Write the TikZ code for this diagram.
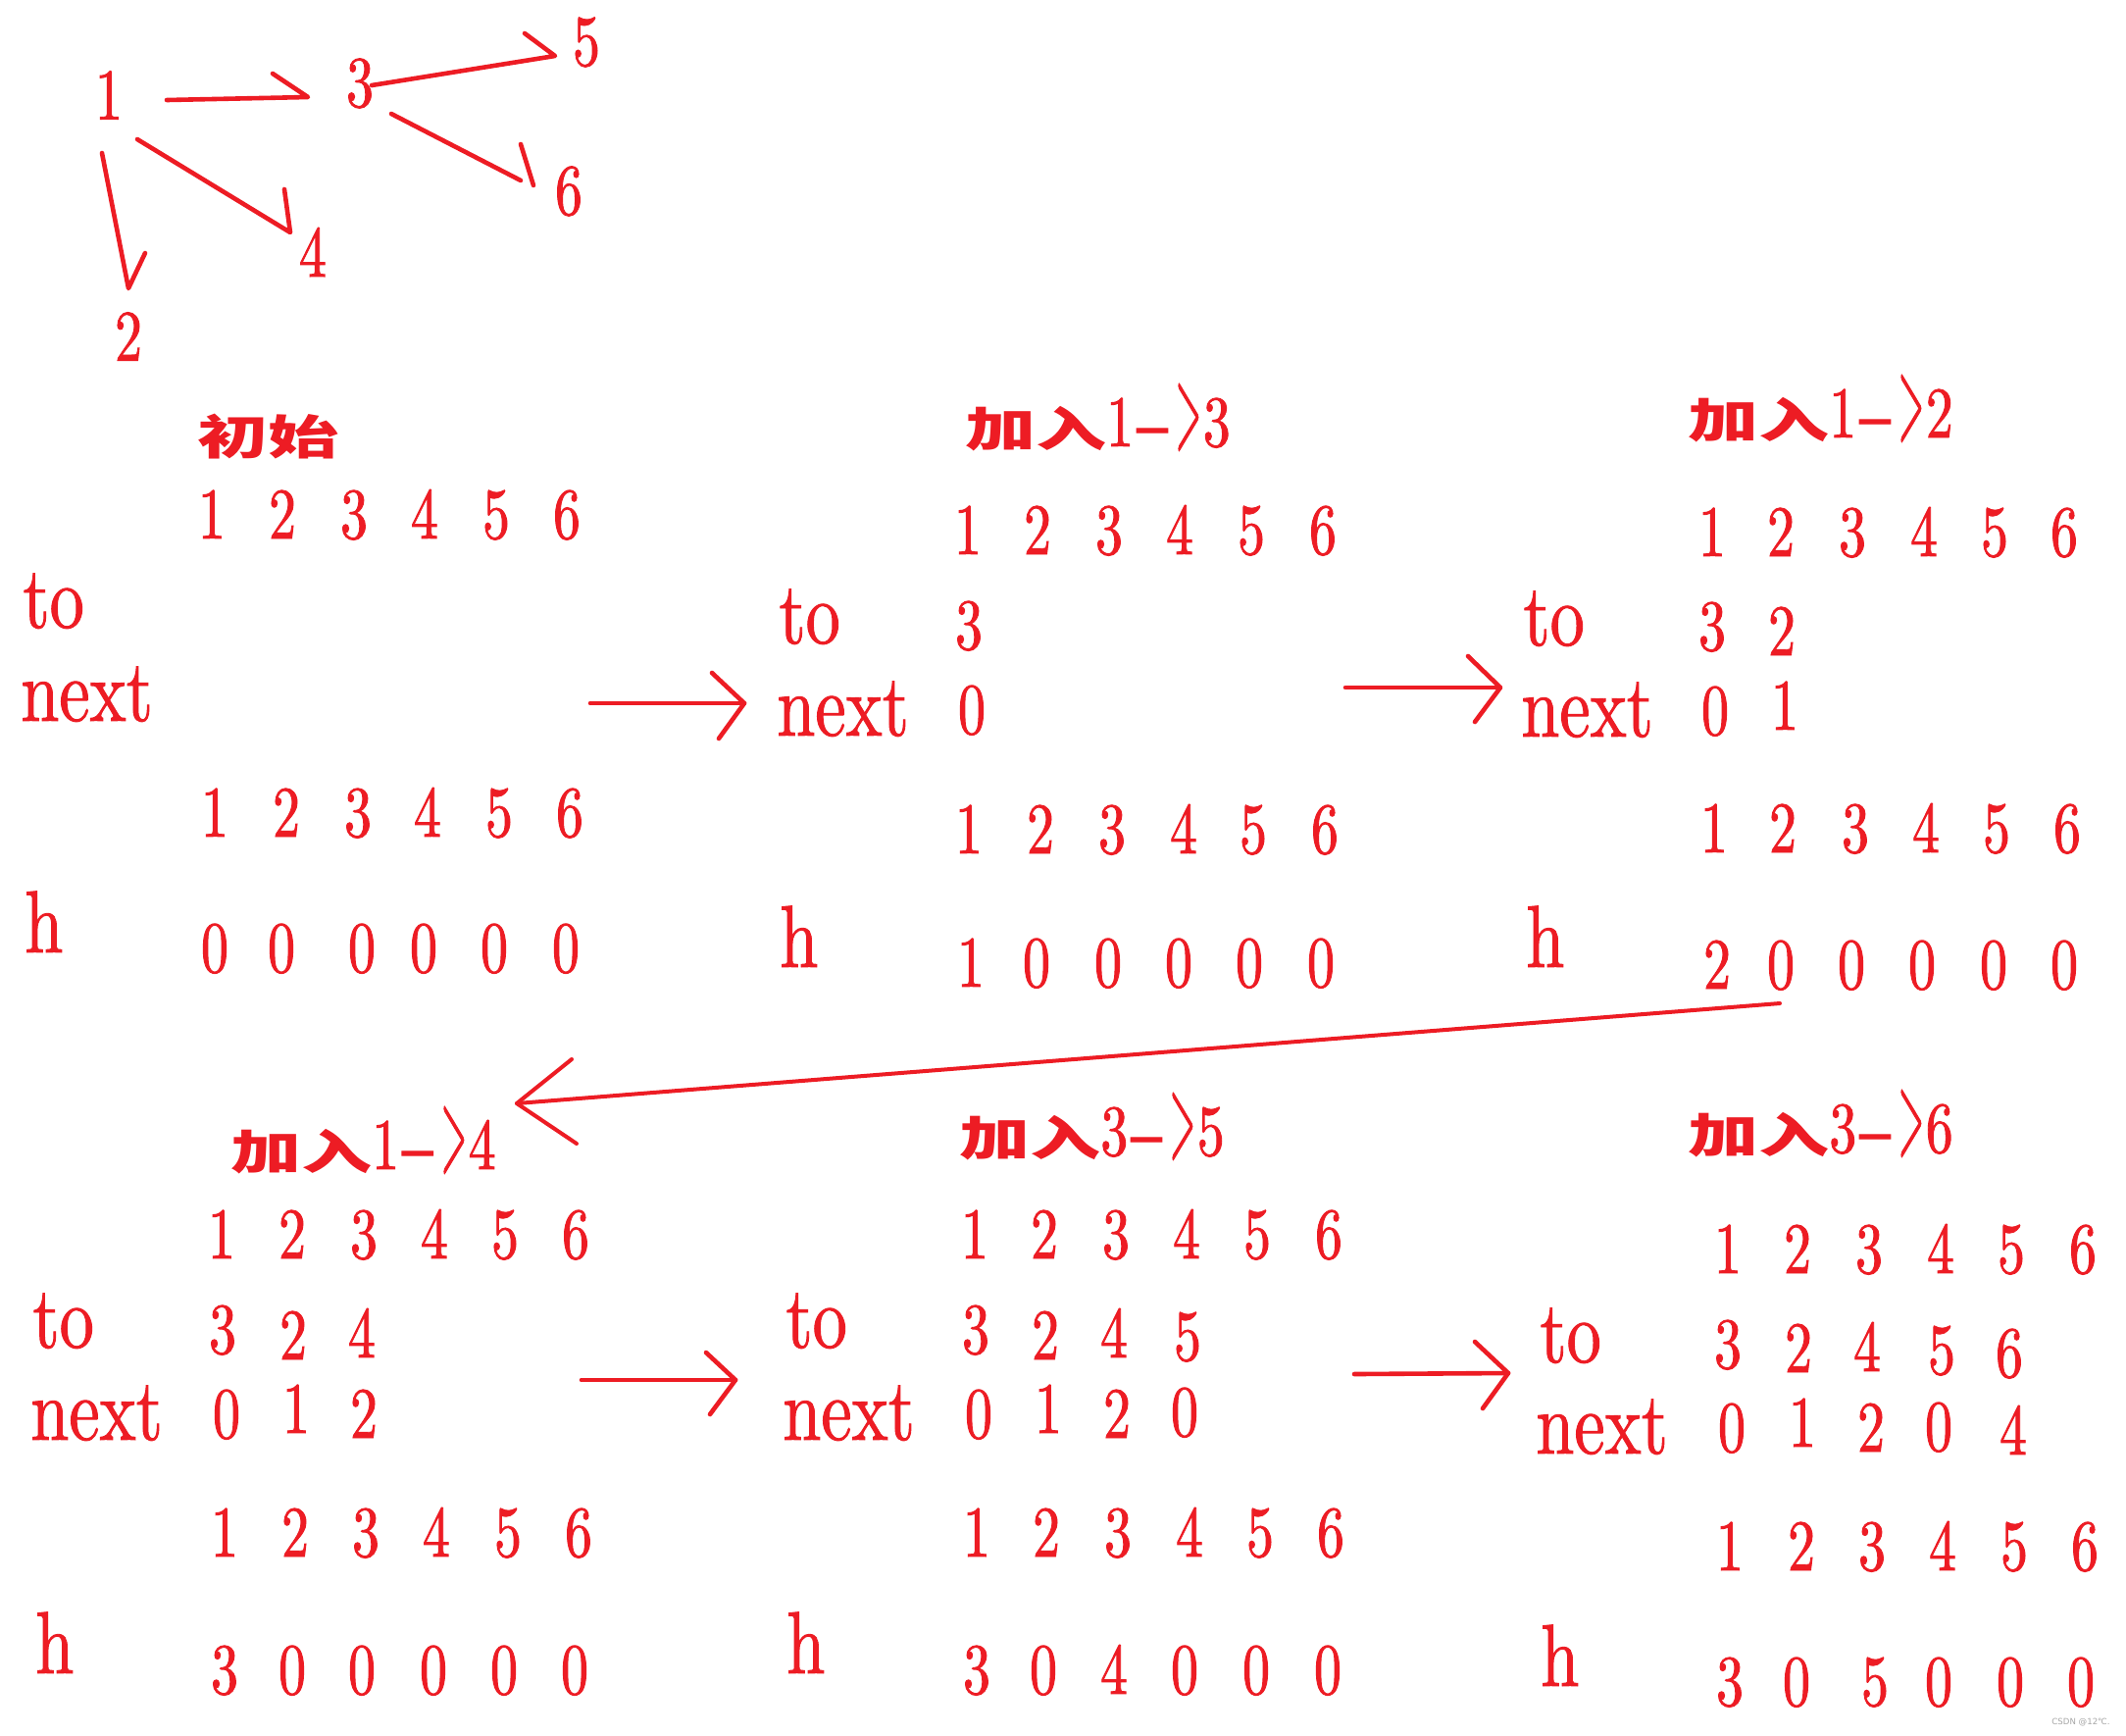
\documentclass[tikz,border=0pt]{standalone}
\usepackage{fontspec}
\usepackage{graphicx}
\newfontfamily\nf{lmroman10-regular.otf}[FakeStretch=0.75, FakeBold=1.2]
\newfontfamily\lf{lmroman10-regular.otf}[FakeStretch=0.78, FakeBold=1.0]
\newfontfamily\cjk{Noto Sans CJK SC}[FakeStretch=1.5]
\newfontfamily\wmfont{DejaVu Sans}
\definecolor{red1}{RGB}{237,28,36}
\tikzset{
  dg/.style={font=\nf\fontsize{37}{37}\selectfont, text=red1, inner sep=0pt, anchor=base},
  gd/.style={font=\nf\fontsize{37}{37}\selectfont, text=red1, inner sep=0pt, anchor=center},
  lab/.style={font=\lf\fontsize{45}{45}\selectfont, text=red1, inner sep=0pt, anchor=base west},
  ttl/.style={font=\nf\fontsize{37}{37}\selectfont, text=red1, inner sep=0pt, anchor=base west},
  pen/.style={draw=red1, line width=2.3pt, line cap=round, line join=round},
  gpen/.style={draw=red1, line width=2.3pt, line cap=round, line join=round},
}
\newcommand\ch[1]{{\cjk\bfseries\fontsize{24}{24}\selectfont #1}}
\newcommand\arr{\hspace{1pt}\scalebox{2.1}[1]{-}\hspace{1pt}\scalebox{0.6}[1.6]{>}\hspace{1pt}}
\begin{document}
\begin{tikzpicture}[x=0.5pt, y=-0.5pt]
\useasboundingbox[fill=white] (0,0) rectangle (2168,1769);

% ---------- graph ----------
\node[gd] (g1) at (111,97) {1};
\node[gd] (g3) at (367,85) {3};
\node[gd] (g5) at (598,43) {5};
\node[gd] (g6) at (580,195) {6};
\node[gd] (g4) at (319,257) {4};
\node[gd] (g2) at (131,343) {2};
\coordinate (e13s) at (170,102); \coordinate (e13t) at (314,99);  \coordinate (e13b) at (278,75);
\coordinate (e35s) at (379,87);  \coordinate (e35t) at (566,57);  \coordinate (e35b) at (535,34);
\coordinate (e36s) at (399,116); \coordinate (e36t) at (531,184); \coordinate (e36a) at (531,147); \coordinate (e36b) at (544,189);
\coordinate (e14s) at (140,142); \coordinate (e14t) at (296,237); \coordinate (e14b) at (290,193);
\coordinate (e12s) at (104,156); \coordinate (e12t) at (131,294); \coordinate (e12b) at (148,258);
\draw[gpen] (e13s) -- (e13t) -- (e13b);
\draw[gpen] (e35s) -- (e35t) -- (e35b);
\draw[gpen] (e36s) -- (e36t);
\draw[gpen] (e36a) -- (e36b);
\draw[gpen] (e14s) -- (e14t) -- (e14b);
\draw[gpen] (e12s) -- (e12t) -- (e12b);

% ---------- block 1 ----------
\node[ttl] (t1) at (201,463) {\ch{初始}};
\foreach \x/\v [count=\i] in {216/1,288/2,361/3,433/4,506/5,578/6} \node[dg] (a1i\i) at (\x,549) {\v};
\node[lab] (a1to) at (23,640) {to};
\node[lab] (a1nx) at (21,735) {next};
\foreach \x/\v [count=\i] in {219/1,292/2,365/3,436/4,509/5,581/6} \node[dg] (a1j\i) at (\x,853) {\v};
\node[lab] (a1h) at (25,971) {h};
\foreach \x/\v [count=\i] in {219/0,287/0,369/0,432/0,504/0,577/0} \node[dg] (a1h\i) at (\x,991) {\v};

% ---------- block 2 ----------
\node[ttl] (t2) at (984,455) {\ch{加入}1\arr3};
\foreach \x/\v [count=\i] in {987/1,1058/2,1131/3,1203/4,1276/5,1349/6} \node[dg] (a2i\i) at (\x,565) {\v};
\node[lab] (a2to) at (794,656) {to};
\node[dg] (a2t1) at (988,662) {3};
\node[lab] (a2nx) at (792,750) {next};
\node[dg] (a2n1) at (991,748) {0};
\foreach \x/\v [count=\i] in {988/1,1061/2,1134/3,1207/4,1278/5,1351/6} \node[dg] (a2j\i) at (\x,870) {\v};
\node[lab] (a2h) at (795,986) {h};
\foreach \x/\v [count=\i] in {990/1,1057/0,1130/0,1202/0,1274/0,1347/0} \node[dg] (a2h\i) at (\x,1006) {\v};

% ---------- block 3 ----------
\node[ttl] (t3) at (1721,446) {\ch{加入}1\arr2};
\foreach \x/\v [count=\i] in {1746/1,1816/2,1889/3,1962/4,2034/5,2105/6} \node[dg] (a3i\i) at (\x,567) {\v};
\node[lab] (a3to) at (1553,658) {to};
\foreach \x/\y/\v [count=\i] in {1746/663/3,1817/668/2} \node[dg] (a3t\i) at (\x,\y) {\v};
\node[lab] (a3nx) at (1551,751) {next};
\foreach \x/\y/\v [count=\i] in {1749/749/0,1820/744/1} \node[dg] (a3n\i) at (\x,\y) {\v};
\foreach \x/\v [count=\i] in {1748/1,1818/2,1892/3,1964/4,2036/5,2108/6} \node[dg] (a3j\i) at (\x,869) {\v};
\node[lab] (a3h) at (1556,986) {h};
\foreach \x/\v [count=\i] in {1751/2,1816/0,1888/0,1960/0,2033/0,2105/0} \node[dg] (a3h\i) at (\x,1008) {\v};

% ---------- block 4 ----------
\node[ttl] (t4) at (235,1192) {\ch{加入}1\arr4};
\foreach \x/\v [count=\i] in {226/1,298/2,371/3,443/4,515/5,587/6} \node[dg] (a4i\i) at (\x,1283) {\v};
\node[lab] (a4to) at (33,1374) {to};
\foreach \x/\y/\v [count=\i] in {227/1380/3,299/1386/2,369/1384/4} \node[dg] (a4t\i) at (\x,\y) {\v};
\node[lab] (a4nx) at (31,1468) {next};
\foreach \x/\y/\v [count=\i] in {231/1466/0,302/1461/1,371/1466/2} \node[dg] (a4n\i) at (\x,\y) {\v};
\foreach \x/\v [count=\i] in {229/1,301/2,373/3,445/4,518/5,590/6} \node[dg] (a4j\i) at (\x,1587) {\v};
\node[lab] (a4h) at (36,1706) {h};
\foreach \x/\v [count=\i] in {229/3,298/0,369/0,442/0,514/0,586/0} \node[dg] (a4h\i) at (\x,1727) {\v};

% ---------- block 5 ----------
\node[ttl] (t5) at (978,1178) {\ch{加入}3\arr5};
\foreach \x/\v [count=\i] in {994/1,1065/2,1138/3,1210/4,1282/5,1355/6} \node[dg] (a5i\i) at (\x,1283) {\v};
\node[lab] (a5to) at (801,1374) {to};
\foreach \x/\y/\v [count=\i] in {995/1380/3,1066/1386/2,1136/1384/4,1211/1387/5} \node[dg] (a5t\i) at (\x,\y) {\v};
\node[lab] (a5nx) at (798,1468) {next};
\foreach \x/\y/\v [count=\i] in {998/1466/0,1069/1461/1,1139/1466/2,1208/1464/0} \node[dg] (a5n\i) at (\x,\y) {\v};
\foreach \x/\v [count=\i] in {996/1,1067/2,1140/3,1213/4,1285/5,1357/6} \node[dg] (a5j\i) at (\x,1587) {\v};
\node[lab] (a5h) at (802,1706) {h};
\foreach \x/\v [count=\i] in {996/3,1064/0,1136/4,1208/0,1281/0,1354/0} \node[dg] (a5h\i) at (\x,1727) {\v};

% ---------- block 6 ----------
\node[ttl] (t6) at (1721,1175) {\ch{加入}3\arr6};
\foreach \x/\v [count=\i] in {1762/1,1833/2,1906/3,1979/4,2051/5,2124/6} \node[dg] (a6i\i) at (\x,1298) {\v};
\node[lab] (a6to) at (1570,1389) {to};
\foreach \x/\y/\v [count=\i] in {1762/1395/3,1834/1399/2,1904/1398/4,1980/1401/5,2049/1404/6} \node[dg] (a6t\i) at (\x,\y) {\v};
\node[lab] (a6nx) at (1566,1482) {next};
\foreach \x/\y/\v [count=\i] in {1766/1480/0,1838/1475/1,1908/1480/2,1977/1479/0,2053/1483/4} \node[dg] (a6n\i) at (\x,\y) {\v};
\foreach \x/\v [count=\i] in {1764/1,1837/2,1909/3,1981/4,2054/5,2126/6} \node[dg] (a6j\i) at (\x,1601) {\v};
\node[lab] (a6h) at (1571,1719) {h};
\foreach \x/\v [count=\i] in {1764/3,1832/0,1912/5,1977/0,2050/0,2122/0} \node[dg] (a6h\i) at (\x,1739) {\v};

% ---------- arrows between blocks ----------
\coordinate (p1s) at (602,717);  \coordinate (p1t) at (759,717);  \coordinate (p1a) at (726,686);  \coordinate (p1b) at (733,753);
\coordinate (p2s) at (1372,701); \coordinate (p2t) at (1530,701); \coordinate (p2a) at (1497,669); \coordinate (p2b) at (1504,736);
\coordinate (p3s) at (1815,1023); \coordinate (p3t) at (527,1125); \coordinate (p3a) at (583,1080); \coordinate (p3b) at (588,1166);
\coordinate (p4s) at (593,1407); \coordinate (p4t) at (750,1407); \coordinate (p4a) at (720,1379); \coordinate (p4b) at (724,1442);
\coordinate (p5s) at (1381,1401); \coordinate (p5t) at (1538,1400); \coordinate (p5a) at (1504,1368); \coordinate (p5b) at (1512,1436);
\foreach \k in {1,2,4,5} {
  \draw[pen] (p\k s) -- (p\k t);
  \draw[pen] (p\k a) -- (p\k t) -- (p\k b);
}
\draw[pen, line width=2pt] (p3s) -- (p3t);
\draw[pen, line width=2pt] (p3a) -- (p3t) -- (p3b);

% ---------- watermark ----------
\node[font=\wmfont\fontsize{4.3}{4.3}\selectfont, text=gray!70, inner sep=0pt, anchor=base east] (wm) at (2152,1758) {CSDN @12℃.};
\end{tikzpicture}
\end{document}
